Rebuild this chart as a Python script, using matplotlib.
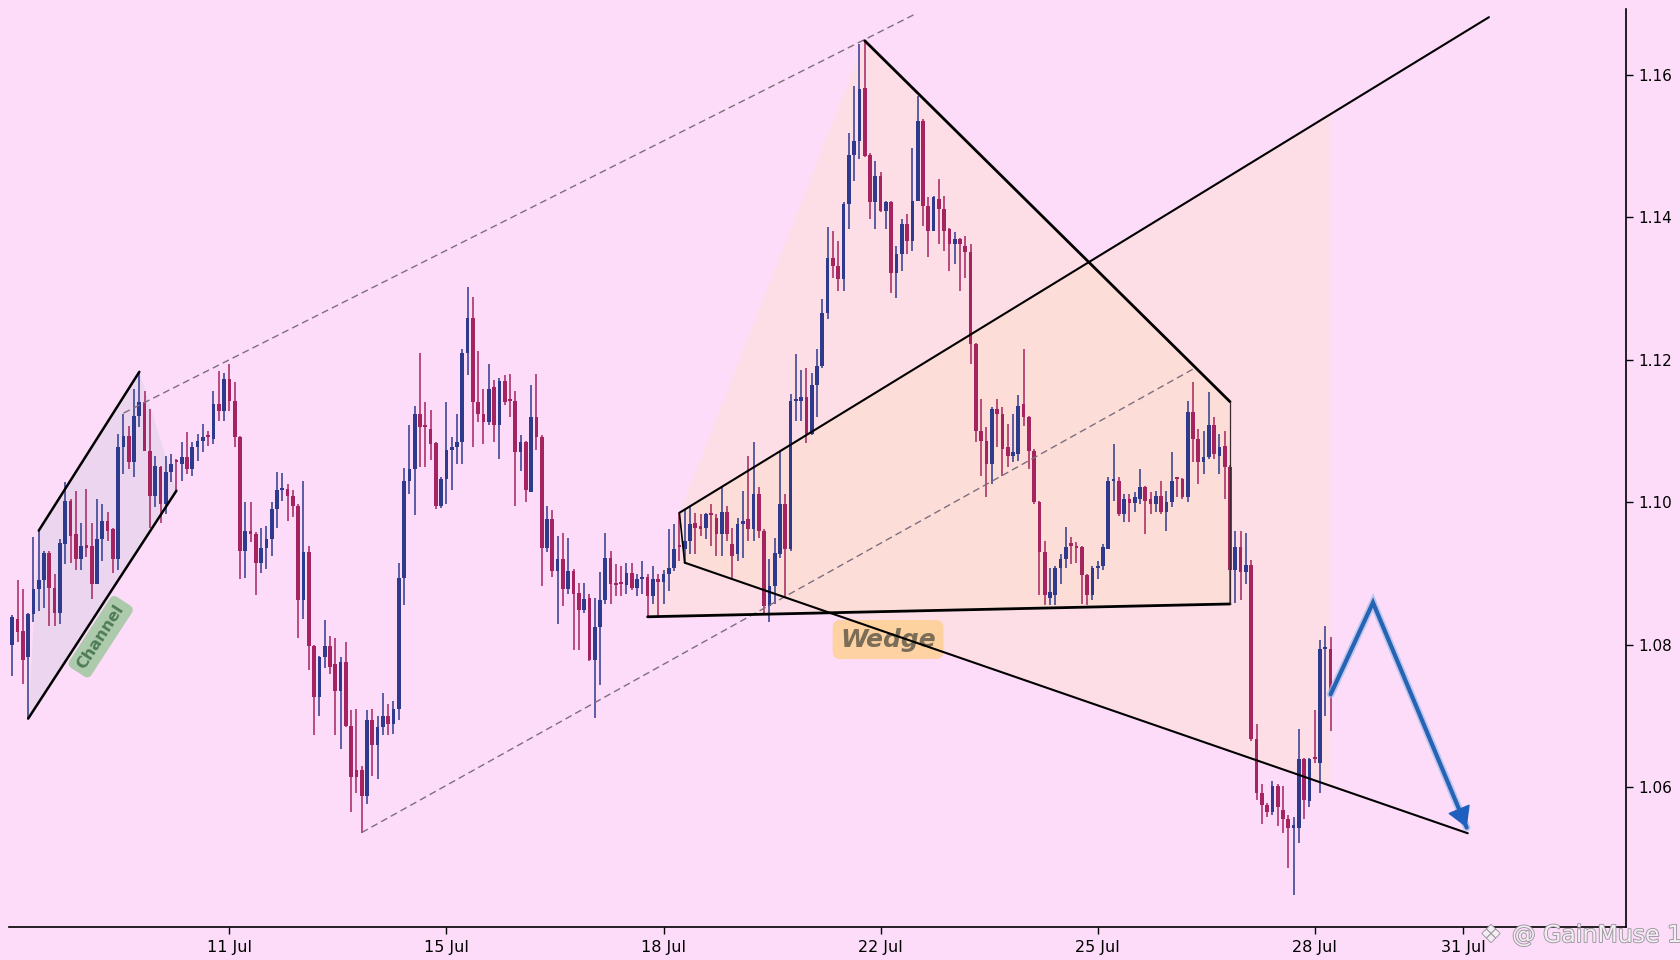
import numpy as np
import matplotlib
matplotlib.use("Agg")
import matplotlib.pyplot as plt
import matplotlib.patheffects as pe
from matplotlib.patches import Polygon

# candle data, one entry per bar
OPENS = [
    1.0800, 1.0836, 1.0819, 1.0782, 1.0843, 1.0878, 1.0890, 1.0929, 1.0880, 1.0845,
    1.0941, 1.1002, 1.0955, 1.0920, 1.0940, 1.0939, 1.0885, 1.0948, 1.0974, 1.0962,
    1.0920, 1.1077, 1.1093, 1.1056, 1.1121, 1.1140, 1.1072, 1.1009, 1.1049, 1.0997,
    1.1042, 1.1056, 1.1053, 1.1063, 1.1046, 1.1077, 1.1086, 1.1091, 1.1088, 1.1138,
    1.1128, 1.1173, 1.1142, 1.1091, 1.0932, 1.0960, 1.0955, 1.0915, 1.0936, 1.0948,
    1.0990, 1.1017, 1.1018, 1.1009, 1.0995, 1.0863, 1.0930, 1.0798, 1.0726, 1.0782,
    1.0798, 1.0772, 1.0735, 1.0775, 1.0686, 1.0624, 1.0624, 1.0587, 1.0694, 1.0659,
    1.0684, 1.0700, 1.0689, 1.0710, 1.0893, 1.1030, 1.1046, 1.1124, 1.1105, 1.1102,
    1.1083, 1.0995, 1.1033, 1.1073, 1.1078, 1.1084, 1.1210, 1.1258, 1.1140, 1.1124,
    1.1113, 1.1162, 1.1108, 1.1170, 1.1142, 1.1142, 1.1070, 1.1084, 1.1014, 1.1119,
    1.1092, 1.0936, 1.0976, 1.0903, 1.0920, 1.0878, 1.0903, 1.0873, 1.0848, 1.0866,
    1.0779, 1.0824, 1.0862, 1.0922, 1.0887, 1.0885, 1.0883, 1.0901, 1.0880, 1.0892,
    1.0895, 1.0868, 1.0892, 1.0888, 1.0899, 1.0908, 1.0937, 1.0934, 1.0946, 1.0971,
    1.0967, 1.0964, 1.0982, 1.0978, 1.0955, 1.0986, 1.0941, 1.0927, 1.0969, 1.0976,
    1.0962, 1.1011, 1.0960, 1.0854, 1.0882, 1.0927, 1.0997, 1.0934, 1.1142, 1.1142,
    1.1147, 1.1096, 1.1165, 1.1191, 1.1266, 1.1343, 1.1332, 1.1313, 1.1418, 1.1488,
    1.1507, 1.1582, 1.1488, 1.1421, 1.1458, 1.1409, 1.1421, 1.1322, 1.1348, 1.1390,
    1.1367, 1.1423, 1.1535, 1.1416, 1.1381, 1.1426, 1.1411, 1.1383, 1.1362, 1.1369,
    1.1360, 1.1351, 1.1222, 1.1100, 1.1086, 1.1054, 1.1131, 1.1124, 1.1077, 1.1065,
    1.1068, 1.1138, 1.1119, 1.1072, 1.1000, 1.0930, 1.0866, 1.0869, 1.0908, 1.0920,
    1.0939, 1.0938, 1.0937, 1.0897, 1.0869, 1.0908, 1.0911, 1.0934, 1.1030, 1.1030,
    1.0983, 1.1004, 1.0999, 1.1004, 1.1021, 1.1004, 1.0997, 1.1009, 1.0986, 1.1000,
    1.1032, 1.1032, 1.1007, 1.1126, 1.1089, 1.1056, 1.1064, 1.1108, 1.1065, 1.1079,
    1.1050, 1.0905, 1.0937, 1.0902, 1.0912, 1.0668, 1.0592, 1.0575, 1.0565, 1.0602,
    1.0567, 1.0555, 1.0543, 1.0543, 1.0639, 1.0580, 1.0639, 1.0634, 1.0794, 1.0794,
]
HIGHS = [
    1.0842, 1.0890, 1.0878, 1.0845, 1.0951, 1.0960, 1.0932, 1.0931, 1.0899, 1.0948,
    1.1028, 1.1004, 1.1016, 1.0971, 1.1018, 1.0971, 1.1004, 1.0997, 1.0986, 1.0964,
    1.1096, 1.1124, 1.1107, 1.1159, 1.1183, 1.1156, 1.1131, 1.1065, 1.1051, 1.1065,
    1.1067, 1.1060, 1.1084, 1.1098, 1.1084, 1.1096, 1.1110, 1.1100, 1.1156, 1.1184,
    1.1182, 1.1194, 1.1168, 1.1093, 1.1000, 1.1000, 1.0958, 1.0963, 1.0966, 1.1000,
    1.1043, 1.1041, 1.1025, 1.1017, 1.0997, 1.1030, 1.0939, 1.0800, 1.0784, 1.0834,
    1.0812, 1.0809, 1.0783, 1.0804, 1.0708, 1.0710, 1.0630, 1.0708, 1.0710, 1.0700,
    1.0732, 1.0716, 1.0721, 1.0914, 1.1048, 1.1108, 1.1135, 1.1210, 1.1140, 1.1129,
    1.1085, 1.1035, 1.1140, 1.1092, 1.1124, 1.1215, 1.1302, 1.1288, 1.1212, 1.1159,
    1.1194, 1.1172, 1.1175, 1.1178, 1.1180, 1.1156, 1.1094, 1.1086, 1.1164, 1.1180,
    1.1094, 1.0995, 1.0989, 1.0952, 1.0957, 1.0949, 1.0906, 1.0887, 1.0887, 1.0871,
    1.0866, 1.0902, 1.0957, 1.0931, 1.0913, 1.0910, 1.0915, 1.0915, 1.0899, 1.0918,
    1.0899, 1.0910, 1.0899, 1.0904, 1.0962, 1.0969, 1.0985, 1.0990, 1.0993, 1.0985,
    1.0983, 1.0985, 1.0997, 1.0983, 1.1021, 1.0995, 1.0964, 1.0978, 1.1016, 1.1065,
    1.1084, 1.1021, 1.0962, 1.0920, 1.0950, 1.1070, 1.1011, 1.1152, 1.1208, 1.1185,
    1.1188, 1.1181, 1.1215, 1.1285, 1.1386, 1.1381, 1.1367, 1.1421, 1.1519, 1.1584,
    1.1643, 1.1648, 1.1490, 1.1479, 1.1463, 1.1423, 1.1423, 1.1360, 1.1397, 1.1404,
    1.1498, 1.1570, 1.1538, 1.1428, 1.1430, 1.1454, 1.1430, 1.1385, 1.1379, 1.1371,
    1.1374, 1.1362, 1.1224, 1.1145, 1.1105, 1.1133, 1.1145, 1.1133, 1.1110, 1.1124,
    1.1150, 1.1215, 1.1121, 1.1074, 1.1002, 1.0946, 1.0908, 1.0910, 1.0927, 1.0965,
    1.0951, 1.0944, 1.0939, 1.0899, 1.0911, 1.0918, 1.0941, 1.1035, 1.1082, 1.1035,
    1.1011, 1.1011, 1.1014, 1.1047, 1.1023, 1.1014, 1.1016, 1.1030, 1.1016, 1.1070,
    1.1033, 1.1034, 1.1142, 1.1168, 1.1103, 1.1100, 1.1154, 1.1119, 1.1096, 1.1100,
    1.1052, 1.0960, 1.0960, 1.0956, 1.0919, 1.0688, 1.0604, 1.0577, 1.0609, 1.0604,
    1.0602, 1.0560, 1.0558, 1.0681, 1.0641, 1.0641, 1.0708, 1.0806, 1.0826, 1.0811,
]
LOWS = [
    1.0756, 1.0803, 1.0745, 1.0696, 1.0831, 1.0847, 1.0852, 1.0826, 1.0826, 1.0829,
    1.0913, 1.0915, 1.0904, 1.0904, 1.0923, 1.0864, 1.0885, 1.0918, 1.0946, 1.0901,
    1.0904, 1.1039, 1.1046, 1.1035, 1.1105, 1.1072, 1.0964, 1.0993, 1.0971, 1.0983,
    1.1028, 1.1016, 1.1030, 1.1039, 1.1037, 1.1058, 1.1070, 1.1079, 1.1082, 1.1114,
    1.1114, 1.1128, 1.1077, 1.0892, 1.0893, 1.0944, 1.0869, 1.0901, 1.0906, 1.0925,
    1.0963, 1.1001, 1.0974, 1.0979, 1.0809, 1.0836, 1.0764, 1.0673, 1.0699, 1.0767,
    1.0758, 1.0673, 1.0654, 1.0684, 1.0565, 1.0592, 1.0536, 1.0576, 1.0616, 1.0611,
    1.0673, 1.0673, 1.0675, 1.0694, 1.0855, 1.1011, 1.0982, 1.1049, 1.1049, 1.1059,
    1.0990, 1.0992, 1.0998, 1.1017, 1.1054, 1.1054, 1.1178, 1.1078, 1.1113, 1.1081,
    1.1108, 1.1084, 1.1060, 1.1137, 1.1119, 1.0995, 1.1044, 1.1000, 1.1014, 1.1073,
    1.0882, 1.0930, 1.0895, 1.0829, 1.0854, 1.0871, 1.0792, 1.0792, 1.0845, 1.0777,
    1.0697, 1.0743, 1.0857, 1.0857, 1.0868, 1.0868, 1.0871, 1.0876, 1.0868, 1.0871,
    1.0839, 1.0857, 1.0838, 1.0857, 1.0875, 1.0903, 1.0918, 1.0915, 1.0927, 1.0927,
    1.0953, 1.0948, 1.0939, 1.0925, 1.0925, 1.0946, 1.0894, 1.0918, 1.0922, 1.0946,
    1.0946, 1.0950, 1.0842, 1.0831, 1.0857, 1.0922, 1.0866, 1.0932, 1.1114, 1.1114,
    1.1083, 1.1094, 1.1119, 1.1189, 1.1257, 1.1315, 1.1297, 1.1297, 1.1383, 1.1451,
    1.1482, 1.1484, 1.1397, 1.1383, 1.1407, 1.1383, 1.1294, 1.1287, 1.1325, 1.1348,
    1.1353, 1.1423, 1.1388, 1.1344, 1.1381, 1.1362, 1.1353, 1.1325, 1.1334, 1.1297,
    1.1315, 1.1194, 1.1084, 1.1037, 1.1007, 1.1025, 1.1077, 1.1037, 1.1049, 1.1056,
    1.1058, 1.1107, 1.1047, 1.0998, 1.0869, 1.0855, 1.0855, 1.0855, 1.0885, 1.0908,
    1.0913, 1.0915, 1.0857, 1.0855, 1.0862, 1.0892, 1.0904, 1.0934, 1.1002, 1.0981,
    1.0972, 1.0972, 1.0986, 1.0997, 1.0955, 1.0983, 1.0986, 1.0983, 1.0960, 1.0993,
    1.1007, 1.1005, 1.1000, 1.1056, 1.1025, 1.1040, 1.1061, 1.1061, 1.1040, 1.1004,
    1.0857, 1.0858, 1.0862, 1.0885, 1.0665, 1.0582, 1.0548, 1.0558, 1.0560, 1.0545,
    1.0535, 1.0486, 1.0449, 1.0521, 1.0555, 1.0572, 1.0634, 1.0592, 1.0700, 1.0679,
]
CLOSES = [
    1.0838, 1.0818, 1.0779, 1.0843, 1.0878, 1.0890, 1.0929, 1.0880, 1.0845, 1.0943,
    1.1002, 1.0953, 1.0920, 1.0939, 1.0936, 1.0885, 1.0948, 1.0974, 1.0960, 1.0920,
    1.1077, 1.1093, 1.1056, 1.1121, 1.1140, 1.1072, 1.1009, 1.1051, 1.0997, 1.1042,
    1.1053, 1.1053, 1.1063, 1.1046, 1.1077, 1.1086, 1.1091, 1.1088, 1.1138, 1.1128,
    1.1173, 1.1142, 1.1091, 1.0932, 1.0960, 1.0955, 1.0915, 1.0936, 1.0948, 1.0990,
    1.1017, 1.1019, 1.1009, 1.0995, 1.0863, 1.0930, 1.0798, 1.0726, 1.0782, 1.0798,
    1.0769, 1.0735, 1.0775, 1.0686, 1.0614, 1.0614, 1.0587, 1.0694, 1.0659, 1.0684,
    1.0700, 1.0689, 1.0710, 1.0893, 1.1030, 1.1046, 1.1124, 1.1105, 1.1102, 1.1081,
    1.0995, 1.1033, 1.1073, 1.1078, 1.1084, 1.1210, 1.1258, 1.1140, 1.1124, 1.1113,
    1.1159, 1.1108, 1.1170, 1.1140, 1.1140, 1.1070, 1.1084, 1.1017, 1.1119, 1.1092,
    1.0936, 1.0976, 1.0903, 1.0920, 1.0878, 1.0903, 1.0871, 1.0848, 1.0864, 1.0779,
    1.0824, 1.0862, 1.0922, 1.0885, 1.0883, 1.0884, 1.0901, 1.0880, 1.0892, 1.0895,
    1.0868, 1.0892, 1.0888, 1.0899, 1.0908, 1.0934, 1.0934, 1.0946, 1.0969, 1.0964,
    1.0962, 1.0983, 1.0980, 1.0955, 1.0986, 1.0955, 1.0925, 1.0969, 1.0974, 1.0962,
    1.1011, 1.0960, 1.0854, 1.0882, 1.0929, 1.0997, 1.0934, 1.1142, 1.1144, 1.1147,
    1.1096, 1.1165, 1.1191, 1.1266, 1.1343, 1.1332, 1.1313, 1.1418, 1.1488, 1.1507,
    1.1580, 1.1486, 1.1421, 1.1458, 1.1409, 1.1421, 1.1322, 1.1348, 1.1390, 1.1367,
    1.1423, 1.1535, 1.1416, 1.1381, 1.1428, 1.1411, 1.1381, 1.1362, 1.1369, 1.1362,
    1.1351, 1.1222, 1.1100, 1.1086, 1.1054, 1.1131, 1.1124, 1.1075, 1.1065, 1.1070,
    1.1135, 1.1119, 1.1072, 1.1000, 1.0930, 1.0869, 1.0874, 1.0908, 1.0920, 1.0937,
    1.0937, 1.0935, 1.0897, 1.0869, 1.0908, 1.0911, 1.0937, 1.1030, 1.1033, 1.0983,
    1.1004, 1.0999, 1.1007, 1.1021, 1.1002, 1.0997, 1.1009, 1.0986, 1.1000, 1.1030,
    1.1030, 1.1007, 1.1126, 1.1089, 1.1056, 1.1063, 1.1108, 1.1067, 1.1077, 1.1050,
    1.0905, 1.0937, 1.0902, 1.0912, 1.0668, 1.0592, 1.0575, 1.0565, 1.0602, 1.0572,
    1.0555, 1.0543, 1.0544, 1.0639, 1.0582, 1.0639, 1.0636, 1.0794, 1.0795, 1.0730,
]

TICK_IDX = [41, 82, 123, 164, 205, 246, 274]
TICK_LABELS = ["11 Jul", "15 Jul", "18 Jul", "22 Jul", "25 Jul", "28 Jul", "31 Jul"]
Y_TICKS = [1.06, 1.08, 1.10, 1.12, 1.14, 1.16]

# drawn pattern anchors as (bar index, price)
CHANNEL_BOX = [(3, 1.0696), (5, 1.0960), (24, 1.1183), (31, 1.1016)]
UPPER_DASH = [(21, 1.1125), (170.7, 1.1686)]
LOWER_DASH = [(66, 1.0536), (223.3, 1.1188)]
HEAD = [(120, 1.0839), (126, 1.0985), (161, 1.1648), (230, 1.1141), (230, 1.0857)]
WEDGE_TOP = [(126, 1.0985), (278.9, 1.1681)]
WEDGE_BOT = [(127, 1.0915), (274.9, 1.0535)]
WEDGE_FILL_END = 249
PROJECTION = [(249, 1.0730), (257.0, 1.0859), (274.7, 1.0543)]

BG = "#fddcfa"
UP = "#2e3a8c"
DOWN = "#a5245f"


def line_at(seg, xv):
    (x0, y0), (x1, y1) = seg
    return y0 + (y1 - y0) * (xv - x0) / (x1 - x0)


def draw_seg(ax, p, q, **kw):
    ax.plot([p[0], q[0]], [p[1], q[1]], solid_capstyle="round", **kw)


fig = plt.figure(figsize=(16.8, 9.6), dpi=100, facecolor=BG)
ax = fig.add_axes([0.0051, 0.0341, 0.9628, 0.9569], facecolor=BG)

# candles
o = np.array(OPENS)
h = np.array(HIGHS)
l = np.array(LOWS)
c = np.array(CLOSES)
x = np.arange(len(c))
colors = np.where(c >= o, UP, DOWN)
body = c - o
body = np.where(np.abs(body) < 0.0003, 0.0003, body)
ax.vlines(x, l, h, colors=colors, lw=1.1, zorder=3)
ax.bar(x, body, bottom=o, width=0.7, color=colors, linewidth=0, zorder=3)

# channel
ax.add_patch(Polygon(CHANNEL_BOX, closed=True, fc="#cfcbdc", ec="none",
                     alpha=0.35, zorder=1))
draw_seg(ax, CHANNEL_BOX[1], CHANNEL_BOX[2], color="black", lw=1.8, zorder=4)
draw_seg(ax, CHANNEL_BOX[0], CHANNEL_BOX[3], color="black", lw=1.8, zorder=4)
ax.text(16.7, 1.0811, "Channel", rotation=57, ha="center", va="center",
        fontsize=11.5, fontweight="bold", color="#4f7c55", zorder=5,
        bbox=dict(boxstyle="round,pad=0.35", fc="#93c493", ec="none", alpha=0.75))

# big dashed rails
draw_seg(ax, *UPPER_DASH, color="#7d6f7d", lw=1.0, ls=(0, (5, 3)), zorder=4)
draw_seg(ax, *LOWER_DASH, color="#7d6f7d", lw=1.0, ls=(0, (5, 3)), zorder=4)

# head region
ax.add_patch(Polygon(HEAD, closed=True, fc="#ffe0bd", ec="none",
                     alpha=0.32, zorder=1))
draw_seg(ax, HEAD[2], HEAD[3], color="black", lw=2.0, zorder=4)
draw_seg(ax, HEAD[0], HEAD[4], color="black", lw=2.0, zorder=4)
draw_seg(ax, HEAD[3], HEAD[4], color="#3a2a30", lw=0.9, zorder=4)

# wedge
top_end = line_at(WEDGE_TOP, WEDGE_FILL_END)
bot_end = line_at(WEDGE_BOT, WEDGE_FILL_END)
wedge_poly = [WEDGE_TOP[0], (WEDGE_FILL_END, top_end),
              (WEDGE_FILL_END, bot_end), WEDGE_BOT[0]]
ax.add_patch(Polygon(wedge_poly, closed=True, fc="#ffe0bd", ec="none",
                     alpha=0.32, zorder=1))
draw_seg(ax, *WEDGE_TOP, color="black", lw=1.5, zorder=4)
draw_seg(ax, *WEDGE_BOT, color="black", lw=1.5, zorder=6)
draw_seg(ax, WEDGE_TOP[0], WEDGE_BOT[0], color="black", lw=1.2, zorder=4)
ax.text(165.4, 1.0807, "Wedge", ha="center", va="center", fontsize=18,
        fontweight="bold", style="italic", color="#7b6d57", zorder=5,
        bbox=dict(boxstyle="round,pad=0.3", fc="#ffcf86", ec="none", alpha=0.75))

# projected path
px, py = zip(*PROJECTION)
ax.plot(px, py, color="#2763b5", lw=3.0, solid_capstyle="round",
        solid_joinstyle="miter", zorder=7,
        path_effects=[pe.Stroke(linewidth=5.5, foreground="#a3bfe8", alpha=0.7),
                      pe.Normal()])
ax.annotate("", xy=(px[-1], py[-1]),
            xytext=(px[-1] - 0.1 * (px[-1] - px[-2]), py[-1] - 0.1 * (py[-1] - py[-2])),
            arrowprops=dict(arrowstyle="-|>,head_length=0.6,head_width=0.35",
                            color="#1f5fbf", mutation_scale=22,
                            lw=1, shrinkA=0, shrinkB=0),
            zorder=8)

# axes styling
ax.set_xlim(-0.7, 304.8)
ax.set_ylim(1.0403, 1.1693)
for side in ("top", "left"):
    ax.spines[side].set_visible(False)
for side in ("right", "bottom"):
    ax.spines[side].set_linewidth(1.2)
    ax.spines[side].set_color("black")

ax.yaxis.tick_right()
ax.set_yticks(Y_TICKS)
ax.set_yticklabels([f"{v:.2f}" for v in Y_TICKS])
ax.tick_params(axis="y", length=5, width=1, labelsize=11, pad=4)
ax.set_xticks(TICK_IDX)
ax.set_xticklabels(TICK_LABELS)
ax.tick_params(axis="x", length=5, width=1, labelsize=11.5, pad=4)
for lbl in ax.get_xticklabels():
    lbl.set_fontfamily(["Liberation Sans Narrow", "DejaVu Sans"])

# watermark
wm_fx = [pe.Stroke(linewidth=1.3, foreground="#9c969e"), pe.Normal()]
fig.text(0.8875, 0.026, "\u2756", fontsize=17, color="#f2eef3", ha="center",
         va="center", path_effects=wm_fx)
fig.text(0.900, 0.026, "@ GainMuse 1", fontsize=17, color="#f2eef3", ha="left",
         va="center", path_effects=wm_fx)

fig.savefig("out.png", dpi=100, facecolor=BG)
